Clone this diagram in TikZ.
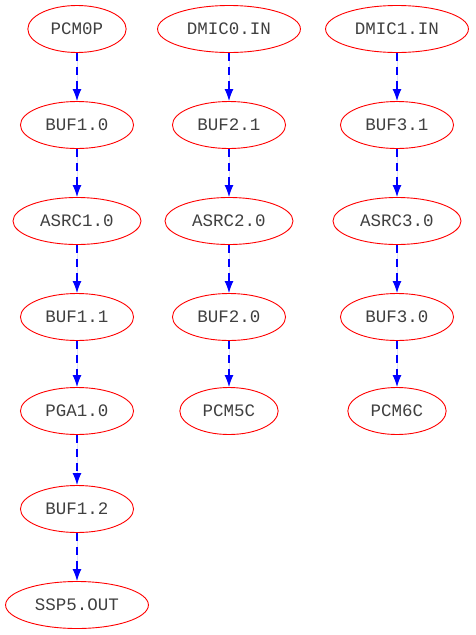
\documentclass[tikz,border=0pt]{standalone}
\usepackage{fontspec}
\setmonofont{Liberation Mono}
\usetikzlibrary{shapes.geometric,arrows.meta}

\tikzset{
  blk/.style={ellipse,draw=red,line width=0.9pt,minimum height=47pt,
    inner xsep=8.5pt,inner ysep=2pt,text=black!75,
    font=\ttfamily\fontsize{17.5}{20}\selectfont},
  link/.style={->,draw=blue,fill=blue,line width=1.2pt,dash pattern=on 8pt off 6pt}
}

\begin{document}
\begin{tikzpicture}[x=1pt,y=-1pt,>={Latex[length=12pt,width=9pt]}]
\useasboundingbox (0,0) rectangle (475,635);
% first column
\node[blk] (pcm0p) at (77,29) {PCM0P};
\node[blk] (buf10) at (77,125) {BUF1.0};
\node[blk] (asrc10) at (77,221) {ASRC1.0};
\node[blk] (buf11) at (77,317) {BUF1.1};
\node[blk] (pga10) at (77,411) {PGA1.0};
\node[blk] (buf12) at (77,509) {BUF1.2};
\node[blk] (ssp5) at (77,605) {SSP5.OUT};
% second column
\node[blk] (dmic0) at (229,29) {DMIC0.IN};
\node[blk] (buf21) at (229,125) {BUF2.1};
\node[blk] (asrc20) at (229,221) {ASRC2.0};
\node[blk] (buf20) at (229,317) {BUF2.0};
\node[blk] (pcm5c) at (229,411) {PCM5C};
% third column
\node[blk] (dmic1) at (397,29) {DMIC1.IN};
\node[blk] (buf31) at (397,125) {BUF3.1};
\node[blk] (asrc30) at (397,221) {ASRC3.0};
\node[blk] (buf30) at (397,317) {BUF3.0};
\node[blk] (pcm6c) at (397,411) {PCM6C};

\draw[link] (pcm0p) -- (buf10);
\draw[link] (buf10) -- (asrc10);
\draw[link] (asrc10) -- (buf11);
\draw[link] (buf11) -- (pga10);
\draw[link] (pga10) -- (buf12);
\draw[link] (buf12) -- (ssp5);
\draw[link] (dmic0) -- (buf21);
\draw[link] (buf21) -- (asrc20);
\draw[link] (asrc20) -- (buf20);
\draw[link] (buf20) -- (pcm5c);
\draw[link] (dmic1) -- (buf31);
\draw[link] (buf31) -- (asrc30);
\draw[link] (asrc30) -- (buf30);
\draw[link] (buf30) -- (pcm6c);
\end{tikzpicture}
\end{document}
